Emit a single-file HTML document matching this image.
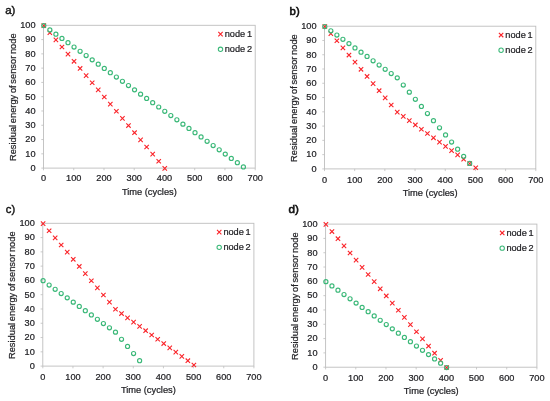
<!DOCTYPE html>
<html><head><meta charset="utf-8"><title>Residual energy of sensor node</title>
<style>
html,body{margin:0;padding:0;background:#fff;}
body{width:550px;height:401px;overflow:hidden;}
svg{display:block;font-family:"Liberation Sans",Arial,sans-serif;}
svg text{stroke:#222226;stroke-width:0.22px;}
</style></head><body>
<svg width="550" height="401" viewBox="0 0 550 401">
<rect width="550" height="401" fill="#fff"/>
<g id="chart-a"><rect x="43.50" y="25.30" width="211.70" height="142.80" fill="none" stroke="#bebebe" stroke-width="0.9"/>
<line x1="41.30" y1="168.10" x2="43.50" y2="168.10" stroke="#bebebe" stroke-width="0.8"/>
<text x="35.50" y="170.90" text-anchor="end" font-size="9.2" fill="#222226">0</text>
<line x1="41.30" y1="153.82" x2="43.50" y2="153.82" stroke="#bebebe" stroke-width="0.8"/>
<text x="35.50" y="156.62" text-anchor="end" font-size="9.2" fill="#222226">10</text>
<line x1="41.30" y1="139.54" x2="43.50" y2="139.54" stroke="#bebebe" stroke-width="0.8"/>
<text x="35.50" y="142.34" text-anchor="end" font-size="9.2" fill="#222226">20</text>
<line x1="41.30" y1="125.26" x2="43.50" y2="125.26" stroke="#bebebe" stroke-width="0.8"/>
<text x="35.50" y="128.06" text-anchor="end" font-size="9.2" fill="#222226">30</text>
<line x1="41.30" y1="110.98" x2="43.50" y2="110.98" stroke="#bebebe" stroke-width="0.8"/>
<text x="35.50" y="113.78" text-anchor="end" font-size="9.2" fill="#222226">40</text>
<line x1="41.30" y1="96.70" x2="43.50" y2="96.70" stroke="#bebebe" stroke-width="0.8"/>
<text x="35.50" y="99.50" text-anchor="end" font-size="9.2" fill="#222226">50</text>
<line x1="41.30" y1="82.42" x2="43.50" y2="82.42" stroke="#bebebe" stroke-width="0.8"/>
<text x="35.50" y="85.22" text-anchor="end" font-size="9.2" fill="#222226">60</text>
<line x1="41.30" y1="68.14" x2="43.50" y2="68.14" stroke="#bebebe" stroke-width="0.8"/>
<text x="35.50" y="70.94" text-anchor="end" font-size="9.2" fill="#222226">70</text>
<line x1="41.30" y1="53.86" x2="43.50" y2="53.86" stroke="#bebebe" stroke-width="0.8"/>
<text x="35.50" y="56.66" text-anchor="end" font-size="9.2" fill="#222226">80</text>
<line x1="41.30" y1="39.58" x2="43.50" y2="39.58" stroke="#bebebe" stroke-width="0.8"/>
<text x="35.50" y="42.38" text-anchor="end" font-size="9.2" fill="#222226">90</text>
<line x1="41.30" y1="25.30" x2="43.50" y2="25.30" stroke="#bebebe" stroke-width="0.8"/>
<text x="35.50" y="28.10" text-anchor="end" font-size="9.2" fill="#222226">100</text>
<line x1="43.50" y1="168.10" x2="43.50" y2="170.30" stroke="#bebebe" stroke-width="0.8"/>
<text x="43.50" y="181.40" text-anchor="middle" font-size="9.2" fill="#222226">0</text>
<line x1="73.74" y1="168.10" x2="73.74" y2="170.30" stroke="#bebebe" stroke-width="0.8"/>
<text x="73.74" y="181.40" text-anchor="middle" font-size="9.2" fill="#222226">100</text>
<line x1="103.99" y1="168.10" x2="103.99" y2="170.30" stroke="#bebebe" stroke-width="0.8"/>
<text x="103.99" y="181.40" text-anchor="middle" font-size="9.2" fill="#222226">200</text>
<line x1="134.23" y1="168.10" x2="134.23" y2="170.30" stroke="#bebebe" stroke-width="0.8"/>
<text x="134.23" y="181.40" text-anchor="middle" font-size="9.2" fill="#222226">300</text>
<line x1="164.47" y1="168.10" x2="164.47" y2="170.30" stroke="#bebebe" stroke-width="0.8"/>
<text x="164.47" y="181.40" text-anchor="middle" font-size="9.2" fill="#222226">400</text>
<line x1="194.71" y1="168.10" x2="194.71" y2="170.30" stroke="#bebebe" stroke-width="0.8"/>
<text x="194.71" y="181.40" text-anchor="middle" font-size="9.2" fill="#222226">500</text>
<line x1="224.96" y1="168.10" x2="224.96" y2="170.30" stroke="#bebebe" stroke-width="0.8"/>
<text x="224.96" y="181.40" text-anchor="middle" font-size="9.2" fill="#222226">600</text>
<line x1="255.20" y1="168.10" x2="255.20" y2="170.30" stroke="#bebebe" stroke-width="0.8"/>
<text x="255.20" y="181.40" text-anchor="middle" font-size="9.2" fill="#222226">700</text>
<text x="149.35" y="194.80" text-anchor="middle" font-size="9.3" fill="#222226">Time (cycles)</text>
<text transform="translate(15.70,97.20) rotate(-90)" text-anchor="middle" font-size="9.3" fill="#222226" word-spacing="-0.9" class="yl">Residual energy of sensor node</text>
<text x="5.2" y="14.2" font-size="11.5" fill="#111" style="stroke:#111;stroke-width:0.4px">a)</text>
<path d="M41.60 23.40L46.00 27.80M41.60 27.80L46.00 23.40" stroke="#fa2329" stroke-width="1.1" fill="none"/>
<path d="M47.65 30.54L52.05 34.94M47.65 34.94L52.05 30.54" stroke="#fa2329" stroke-width="1.1" fill="none"/>
<path d="M53.70 37.68L58.10 42.08M53.70 42.08L58.10 37.68" stroke="#fa2329" stroke-width="1.1" fill="none"/>
<path d="M59.75 44.82L64.15 49.22M59.75 49.22L64.15 44.82" stroke="#fa2329" stroke-width="1.1" fill="none"/>
<path d="M65.79 51.96L70.19 56.36M65.79 56.36L70.19 51.96" stroke="#fa2329" stroke-width="1.1" fill="none"/>
<path d="M71.84 59.10L76.24 63.50M71.84 63.50L76.24 59.10" stroke="#fa2329" stroke-width="1.1" fill="none"/>
<path d="M77.89 66.24L82.29 70.64M77.89 70.64L82.29 66.24" stroke="#fa2329" stroke-width="1.1" fill="none"/>
<path d="M83.94 73.38L88.34 77.78M83.94 77.78L88.34 73.38" stroke="#fa2329" stroke-width="1.1" fill="none"/>
<path d="M89.99 80.52L94.39 84.92M89.99 84.92L94.39 80.52" stroke="#fa2329" stroke-width="1.1" fill="none"/>
<path d="M96.04 87.66L100.44 92.06M96.04 92.06L100.44 87.66" stroke="#fa2329" stroke-width="1.1" fill="none"/>
<path d="M102.09 94.80L106.49 99.20M102.09 99.20L106.49 94.80" stroke="#fa2329" stroke-width="1.1" fill="none"/>
<path d="M108.13 101.94L112.53 106.34M108.13 106.34L112.53 101.94" stroke="#fa2329" stroke-width="1.1" fill="none"/>
<path d="M114.18 109.08L118.58 113.48M114.18 113.48L118.58 109.08" stroke="#fa2329" stroke-width="1.1" fill="none"/>
<path d="M120.23 116.22L124.63 120.62M120.23 120.62L124.63 116.22" stroke="#fa2329" stroke-width="1.1" fill="none"/>
<path d="M126.28 123.36L130.68 127.76M126.28 127.76L130.68 123.36" stroke="#fa2329" stroke-width="1.1" fill="none"/>
<path d="M132.33 130.50L136.73 134.90M132.33 134.90L136.73 130.50" stroke="#fa2329" stroke-width="1.1" fill="none"/>
<path d="M138.38 137.64L142.78 142.04M138.38 142.04L142.78 137.64" stroke="#fa2329" stroke-width="1.1" fill="none"/>
<path d="M144.43 144.78L148.83 149.18M144.43 149.18L148.83 144.78" stroke="#fa2329" stroke-width="1.1" fill="none"/>
<path d="M150.47 151.92L154.87 156.32M150.47 156.32L154.87 151.92" stroke="#fa2329" stroke-width="1.1" fill="none"/>
<path d="M156.52 159.06L160.92 163.46M156.52 163.46L160.92 159.06" stroke="#fa2329" stroke-width="1.1" fill="none"/>
<path d="M162.57 166.20L166.97 170.60M162.57 170.60L166.97 166.20" stroke="#fa2329" stroke-width="1.1" fill="none"/>
<circle cx="43.80" cy="25.60" r="2.05" fill="none" stroke="#3ab878" stroke-width="1.15"/>
<circle cx="49.85" cy="29.88" r="2.05" fill="none" stroke="#3ab878" stroke-width="1.15"/>
<circle cx="55.90" cy="34.17" r="2.05" fill="none" stroke="#3ab878" stroke-width="1.15"/>
<circle cx="61.95" cy="38.45" r="2.05" fill="none" stroke="#3ab878" stroke-width="1.15"/>
<circle cx="67.99" cy="42.74" r="2.05" fill="none" stroke="#3ab878" stroke-width="1.15"/>
<circle cx="74.04" cy="47.02" r="2.05" fill="none" stroke="#3ab878" stroke-width="1.15"/>
<circle cx="80.09" cy="51.30" r="2.05" fill="none" stroke="#3ab878" stroke-width="1.15"/>
<circle cx="86.14" cy="55.59" r="2.05" fill="none" stroke="#3ab878" stroke-width="1.15"/>
<circle cx="92.19" cy="59.87" r="2.05" fill="none" stroke="#3ab878" stroke-width="1.15"/>
<circle cx="98.24" cy="64.16" r="2.05" fill="none" stroke="#3ab878" stroke-width="1.15"/>
<circle cx="104.29" cy="68.44" r="2.05" fill="none" stroke="#3ab878" stroke-width="1.15"/>
<circle cx="110.33" cy="72.72" r="2.05" fill="none" stroke="#3ab878" stroke-width="1.15"/>
<circle cx="116.38" cy="77.01" r="2.05" fill="none" stroke="#3ab878" stroke-width="1.15"/>
<circle cx="122.43" cy="81.29" r="2.05" fill="none" stroke="#3ab878" stroke-width="1.15"/>
<circle cx="128.48" cy="85.58" r="2.05" fill="none" stroke="#3ab878" stroke-width="1.15"/>
<circle cx="134.53" cy="89.86" r="2.05" fill="none" stroke="#3ab878" stroke-width="1.15"/>
<circle cx="140.58" cy="94.14" r="2.05" fill="none" stroke="#3ab878" stroke-width="1.15"/>
<circle cx="146.63" cy="98.43" r="2.05" fill="none" stroke="#3ab878" stroke-width="1.15"/>
<circle cx="152.67" cy="102.71" r="2.05" fill="none" stroke="#3ab878" stroke-width="1.15"/>
<circle cx="158.72" cy="107.00" r="2.05" fill="none" stroke="#3ab878" stroke-width="1.15"/>
<circle cx="164.77" cy="111.28" r="2.05" fill="none" stroke="#3ab878" stroke-width="1.15"/>
<circle cx="170.82" cy="115.56" r="2.05" fill="none" stroke="#3ab878" stroke-width="1.15"/>
<circle cx="176.87" cy="119.85" r="2.05" fill="none" stroke="#3ab878" stroke-width="1.15"/>
<circle cx="182.92" cy="124.13" r="2.05" fill="none" stroke="#3ab878" stroke-width="1.15"/>
<circle cx="188.97" cy="128.42" r="2.05" fill="none" stroke="#3ab878" stroke-width="1.15"/>
<circle cx="195.01" cy="132.70" r="2.05" fill="none" stroke="#3ab878" stroke-width="1.15"/>
<circle cx="201.06" cy="136.98" r="2.05" fill="none" stroke="#3ab878" stroke-width="1.15"/>
<circle cx="207.11" cy="141.27" r="2.05" fill="none" stroke="#3ab878" stroke-width="1.15"/>
<circle cx="213.16" cy="145.55" r="2.05" fill="none" stroke="#3ab878" stroke-width="1.15"/>
<circle cx="219.21" cy="149.84" r="2.05" fill="none" stroke="#3ab878" stroke-width="1.15"/>
<circle cx="225.26" cy="154.12" r="2.05" fill="none" stroke="#3ab878" stroke-width="1.15"/>
<circle cx="231.31" cy="158.40" r="2.05" fill="none" stroke="#3ab878" stroke-width="1.15"/>
<circle cx="237.35" cy="162.69" r="2.05" fill="none" stroke="#3ab878" stroke-width="1.15"/>
<circle cx="243.40" cy="166.97" r="2.05" fill="none" stroke="#3ab878" stroke-width="1.15"/>
<path d="M218.30 31.95L222.70 36.35M218.30 36.35L222.70 31.95" stroke="#fa2329" stroke-width="1.1" fill="none"/>
<text x="224.70" y="36.85" font-size="9.2" fill="#222226" word-spacing="-0.8">node 1</text>
<circle cx="220.50" cy="49.35" r="2.2" fill="none" stroke="#3ab878" stroke-width="1.05"/>
<text x="224.70" y="52.05" font-size="9.2" fill="#222226" word-spacing="-0.8">node 2</text></g>
<g id="chart-b"><rect x="324.50" y="26.20" width="211.30" height="142.70" fill="none" stroke="#bebebe" stroke-width="0.9"/>
<line x1="322.30" y1="168.90" x2="324.50" y2="168.90" stroke="#bebebe" stroke-width="0.8"/>
<text x="316.50" y="171.70" text-anchor="end" font-size="9.2" fill="#222226">0</text>
<line x1="322.30" y1="154.63" x2="324.50" y2="154.63" stroke="#bebebe" stroke-width="0.8"/>
<text x="316.50" y="157.43" text-anchor="end" font-size="9.2" fill="#222226">10</text>
<line x1="322.30" y1="140.36" x2="324.50" y2="140.36" stroke="#bebebe" stroke-width="0.8"/>
<text x="316.50" y="143.16" text-anchor="end" font-size="9.2" fill="#222226">20</text>
<line x1="322.30" y1="126.09" x2="324.50" y2="126.09" stroke="#bebebe" stroke-width="0.8"/>
<text x="316.50" y="128.89" text-anchor="end" font-size="9.2" fill="#222226">30</text>
<line x1="322.30" y1="111.82" x2="324.50" y2="111.82" stroke="#bebebe" stroke-width="0.8"/>
<text x="316.50" y="114.62" text-anchor="end" font-size="9.2" fill="#222226">40</text>
<line x1="322.30" y1="97.55" x2="324.50" y2="97.55" stroke="#bebebe" stroke-width="0.8"/>
<text x="316.50" y="100.35" text-anchor="end" font-size="9.2" fill="#222226">50</text>
<line x1="322.30" y1="83.28" x2="324.50" y2="83.28" stroke="#bebebe" stroke-width="0.8"/>
<text x="316.50" y="86.08" text-anchor="end" font-size="9.2" fill="#222226">60</text>
<line x1="322.30" y1="69.01" x2="324.50" y2="69.01" stroke="#bebebe" stroke-width="0.8"/>
<text x="316.50" y="71.81" text-anchor="end" font-size="9.2" fill="#222226">70</text>
<line x1="322.30" y1="54.74" x2="324.50" y2="54.74" stroke="#bebebe" stroke-width="0.8"/>
<text x="316.50" y="57.54" text-anchor="end" font-size="9.2" fill="#222226">80</text>
<line x1="322.30" y1="40.47" x2="324.50" y2="40.47" stroke="#bebebe" stroke-width="0.8"/>
<text x="316.50" y="43.27" text-anchor="end" font-size="9.2" fill="#222226">90</text>
<line x1="322.30" y1="26.20" x2="324.50" y2="26.20" stroke="#bebebe" stroke-width="0.8"/>
<text x="316.50" y="29.00" text-anchor="end" font-size="9.2" fill="#222226">100</text>
<line x1="324.50" y1="168.90" x2="324.50" y2="171.10" stroke="#bebebe" stroke-width="0.8"/>
<text x="324.50" y="182.70" text-anchor="middle" font-size="9.2" fill="#222226">0</text>
<line x1="354.69" y1="168.90" x2="354.69" y2="171.10" stroke="#bebebe" stroke-width="0.8"/>
<text x="354.69" y="182.70" text-anchor="middle" font-size="9.2" fill="#222226">100</text>
<line x1="384.87" y1="168.90" x2="384.87" y2="171.10" stroke="#bebebe" stroke-width="0.8"/>
<text x="384.87" y="182.70" text-anchor="middle" font-size="9.2" fill="#222226">200</text>
<line x1="415.06" y1="168.90" x2="415.06" y2="171.10" stroke="#bebebe" stroke-width="0.8"/>
<text x="415.06" y="182.70" text-anchor="middle" font-size="9.2" fill="#222226">300</text>
<line x1="445.24" y1="168.90" x2="445.24" y2="171.10" stroke="#bebebe" stroke-width="0.8"/>
<text x="445.24" y="182.70" text-anchor="middle" font-size="9.2" fill="#222226">400</text>
<line x1="475.43" y1="168.90" x2="475.43" y2="171.10" stroke="#bebebe" stroke-width="0.8"/>
<text x="475.43" y="182.70" text-anchor="middle" font-size="9.2" fill="#222226">500</text>
<line x1="505.61" y1="168.90" x2="505.61" y2="171.10" stroke="#bebebe" stroke-width="0.8"/>
<text x="505.61" y="182.70" text-anchor="middle" font-size="9.2" fill="#222226">600</text>
<line x1="535.80" y1="168.90" x2="535.80" y2="171.10" stroke="#bebebe" stroke-width="0.8"/>
<text x="535.80" y="182.70" text-anchor="middle" font-size="9.2" fill="#222226">700</text>
<text x="430.15" y="195.90" text-anchor="middle" font-size="9.3" fill="#222226">Time (cycles)</text>
<text transform="translate(296.70,98.05) rotate(-90)" text-anchor="middle" font-size="9.3" fill="#222226" word-spacing="-0.9" class="yl">Residual energy of sensor node</text>
<text x="289.6" y="14.5" font-size="11.3" fill="#111" style="stroke:#111;stroke-width:0.6px">b)</text>
<path d="M322.60 24.30L327.00 28.70M322.60 28.70L327.00 24.30" stroke="#fa2329" stroke-width="1.1" fill="none"/>
<path d="M328.64 31.43L333.04 35.83M328.64 35.83L333.04 31.43" stroke="#fa2329" stroke-width="1.1" fill="none"/>
<path d="M334.67 38.57L339.07 42.97M334.67 42.97L339.07 38.57" stroke="#fa2329" stroke-width="1.1" fill="none"/>
<path d="M340.71 45.70L345.11 50.10M340.71 50.10L345.11 45.70" stroke="#fa2329" stroke-width="1.1" fill="none"/>
<path d="M346.75 52.84L351.15 57.24M346.75 57.24L351.15 52.84" stroke="#fa2329" stroke-width="1.1" fill="none"/>
<path d="M352.79 59.97L357.19 64.37M352.79 64.37L357.19 59.97" stroke="#fa2329" stroke-width="1.1" fill="none"/>
<path d="M358.82 67.11L363.22 71.51M358.82 71.51L363.22 67.11" stroke="#fa2329" stroke-width="1.1" fill="none"/>
<path d="M364.86 74.24L369.26 78.64M364.86 78.64L369.26 74.24" stroke="#fa2329" stroke-width="1.1" fill="none"/>
<path d="M370.90 81.38L375.30 85.78M370.90 85.78L375.30 81.38" stroke="#fa2329" stroke-width="1.1" fill="none"/>
<path d="M376.93 88.51L381.33 92.91M376.93 92.91L381.33 88.51" stroke="#fa2329" stroke-width="1.1" fill="none"/>
<path d="M382.97 95.65L387.37 100.05M382.97 100.05L387.37 95.65" stroke="#fa2329" stroke-width="1.1" fill="none"/>
<path d="M389.01 102.78L393.41 107.18M389.01 107.18L393.41 102.78" stroke="#fa2329" stroke-width="1.1" fill="none"/>
<path d="M395.05 109.92L399.45 114.32M395.05 114.32L399.45 109.92" stroke="#fa2329" stroke-width="1.1" fill="none"/>
<path d="M401.08 114.20L405.48 118.60M401.08 118.60L405.48 114.20" stroke="#fa2329" stroke-width="1.1" fill="none"/>
<path d="M407.12 118.48L411.52 122.88M407.12 122.88L411.52 118.48" stroke="#fa2329" stroke-width="1.1" fill="none"/>
<path d="M413.16 122.76L417.56 127.16M413.16 127.16L417.56 122.76" stroke="#fa2329" stroke-width="1.1" fill="none"/>
<path d="M419.19 127.04L423.59 131.44M419.19 131.44L423.59 127.04" stroke="#fa2329" stroke-width="1.1" fill="none"/>
<path d="M425.23 131.33L429.63 135.72M425.23 135.72L429.63 131.33" stroke="#fa2329" stroke-width="1.1" fill="none"/>
<path d="M431.27 135.61L435.67 140.01M431.27 140.01L435.67 135.61" stroke="#fa2329" stroke-width="1.1" fill="none"/>
<path d="M437.31 139.89L441.71 144.29M437.31 144.29L441.71 139.89" stroke="#fa2329" stroke-width="1.1" fill="none"/>
<path d="M443.34 144.17L447.74 148.57M443.34 148.57L447.74 144.17" stroke="#fa2329" stroke-width="1.1" fill="none"/>
<path d="M449.38 148.45L453.78 152.85M449.38 152.85L453.78 148.45" stroke="#fa2329" stroke-width="1.1" fill="none"/>
<path d="M455.42 152.73L459.82 157.13M455.42 157.13L459.82 152.73" stroke="#fa2329" stroke-width="1.1" fill="none"/>
<path d="M461.45 157.01L465.85 161.41M461.45 161.41L465.85 157.01" stroke="#fa2329" stroke-width="1.1" fill="none"/>
<path d="M467.49 161.29L471.89 165.69M467.49 165.69L471.89 161.29" stroke="#fa2329" stroke-width="1.1" fill="none"/>
<path d="M473.53 165.57L477.93 169.97M473.53 169.97L477.93 165.57" stroke="#fa2329" stroke-width="1.1" fill="none"/>
<circle cx="324.80" cy="26.50" r="2.05" fill="none" stroke="#3ab878" stroke-width="1.15"/>
<circle cx="330.84" cy="30.78" r="2.05" fill="none" stroke="#3ab878" stroke-width="1.15"/>
<circle cx="336.87" cy="35.06" r="2.05" fill="none" stroke="#3ab878" stroke-width="1.15"/>
<circle cx="342.91" cy="39.34" r="2.05" fill="none" stroke="#3ab878" stroke-width="1.15"/>
<circle cx="348.95" cy="43.62" r="2.05" fill="none" stroke="#3ab878" stroke-width="1.15"/>
<circle cx="354.99" cy="47.90" r="2.05" fill="none" stroke="#3ab878" stroke-width="1.15"/>
<circle cx="361.02" cy="52.19" r="2.05" fill="none" stroke="#3ab878" stroke-width="1.15"/>
<circle cx="367.06" cy="56.47" r="2.05" fill="none" stroke="#3ab878" stroke-width="1.15"/>
<circle cx="373.10" cy="60.75" r="2.05" fill="none" stroke="#3ab878" stroke-width="1.15"/>
<circle cx="379.13" cy="65.03" r="2.05" fill="none" stroke="#3ab878" stroke-width="1.15"/>
<circle cx="385.17" cy="69.31" r="2.05" fill="none" stroke="#3ab878" stroke-width="1.15"/>
<circle cx="391.21" cy="73.59" r="2.05" fill="none" stroke="#3ab878" stroke-width="1.15"/>
<circle cx="397.25" cy="77.87" r="2.05" fill="none" stroke="#3ab878" stroke-width="1.15"/>
<circle cx="403.28" cy="85.01" r="2.05" fill="none" stroke="#3ab878" stroke-width="1.15"/>
<circle cx="409.32" cy="92.14" r="2.05" fill="none" stroke="#3ab878" stroke-width="1.15"/>
<circle cx="415.36" cy="99.28" r="2.05" fill="none" stroke="#3ab878" stroke-width="1.15"/>
<circle cx="421.39" cy="106.41" r="2.05" fill="none" stroke="#3ab878" stroke-width="1.15"/>
<circle cx="427.43" cy="113.55" r="2.05" fill="none" stroke="#3ab878" stroke-width="1.15"/>
<circle cx="433.47" cy="120.68" r="2.05" fill="none" stroke="#3ab878" stroke-width="1.15"/>
<circle cx="439.51" cy="127.82" r="2.05" fill="none" stroke="#3ab878" stroke-width="1.15"/>
<circle cx="445.54" cy="134.95" r="2.05" fill="none" stroke="#3ab878" stroke-width="1.15"/>
<circle cx="451.58" cy="142.09" r="2.05" fill="none" stroke="#3ab878" stroke-width="1.15"/>
<circle cx="457.62" cy="149.22" r="2.05" fill="none" stroke="#3ab878" stroke-width="1.15"/>
<circle cx="463.65" cy="156.36" r="2.05" fill="none" stroke="#3ab878" stroke-width="1.15"/>
<circle cx="469.69" cy="163.49" r="2.05" fill="none" stroke="#3ab878" stroke-width="1.15"/>
<path d="M498.90 32.85L503.30 37.25M498.90 37.25L503.30 32.85" stroke="#fa2329" stroke-width="1.1" fill="none"/>
<text x="505.30" y="37.75" font-size="9.2" fill="#222226" word-spacing="-0.8">node 1</text>
<circle cx="501.10" cy="50.25" r="2.2" fill="none" stroke="#3ab878" stroke-width="1.05"/>
<text x="505.30" y="52.95" font-size="9.2" fill="#222226" word-spacing="-0.8">node 2</text></g>
<g id="chart-c"><rect x="42.80" y="223.30" width="211.10" height="142.80" fill="none" stroke="#bebebe" stroke-width="0.9"/>
<line x1="40.60" y1="366.10" x2="42.80" y2="366.10" stroke="#bebebe" stroke-width="0.8"/>
<text x="34.80" y="368.90" text-anchor="end" font-size="9.2" fill="#222226">0</text>
<line x1="40.60" y1="351.82" x2="42.80" y2="351.82" stroke="#bebebe" stroke-width="0.8"/>
<text x="34.80" y="354.62" text-anchor="end" font-size="9.2" fill="#222226">10</text>
<line x1="40.60" y1="337.54" x2="42.80" y2="337.54" stroke="#bebebe" stroke-width="0.8"/>
<text x="34.80" y="340.34" text-anchor="end" font-size="9.2" fill="#222226">20</text>
<line x1="40.60" y1="323.26" x2="42.80" y2="323.26" stroke="#bebebe" stroke-width="0.8"/>
<text x="34.80" y="326.06" text-anchor="end" font-size="9.2" fill="#222226">30</text>
<line x1="40.60" y1="308.98" x2="42.80" y2="308.98" stroke="#bebebe" stroke-width="0.8"/>
<text x="34.80" y="311.78" text-anchor="end" font-size="9.2" fill="#222226">40</text>
<line x1="40.60" y1="294.70" x2="42.80" y2="294.70" stroke="#bebebe" stroke-width="0.8"/>
<text x="34.80" y="297.50" text-anchor="end" font-size="9.2" fill="#222226">50</text>
<line x1="40.60" y1="280.42" x2="42.80" y2="280.42" stroke="#bebebe" stroke-width="0.8"/>
<text x="34.80" y="283.22" text-anchor="end" font-size="9.2" fill="#222226">60</text>
<line x1="40.60" y1="266.14" x2="42.80" y2="266.14" stroke="#bebebe" stroke-width="0.8"/>
<text x="34.80" y="268.94" text-anchor="end" font-size="9.2" fill="#222226">70</text>
<line x1="40.60" y1="251.86" x2="42.80" y2="251.86" stroke="#bebebe" stroke-width="0.8"/>
<text x="34.80" y="254.66" text-anchor="end" font-size="9.2" fill="#222226">80</text>
<line x1="40.60" y1="237.58" x2="42.80" y2="237.58" stroke="#bebebe" stroke-width="0.8"/>
<text x="34.80" y="240.38" text-anchor="end" font-size="9.2" fill="#222226">90</text>
<line x1="40.60" y1="223.30" x2="42.80" y2="223.30" stroke="#bebebe" stroke-width="0.8"/>
<text x="34.80" y="226.10" text-anchor="end" font-size="9.2" fill="#222226">100</text>
<line x1="42.80" y1="366.10" x2="42.80" y2="368.30" stroke="#bebebe" stroke-width="0.8"/>
<text x="42.80" y="380.00" text-anchor="middle" font-size="9.2" fill="#222226">0</text>
<line x1="72.96" y1="366.10" x2="72.96" y2="368.30" stroke="#bebebe" stroke-width="0.8"/>
<text x="72.96" y="380.00" text-anchor="middle" font-size="9.2" fill="#222226">100</text>
<line x1="103.11" y1="366.10" x2="103.11" y2="368.30" stroke="#bebebe" stroke-width="0.8"/>
<text x="103.11" y="380.00" text-anchor="middle" font-size="9.2" fill="#222226">200</text>
<line x1="133.27" y1="366.10" x2="133.27" y2="368.30" stroke="#bebebe" stroke-width="0.8"/>
<text x="133.27" y="380.00" text-anchor="middle" font-size="9.2" fill="#222226">300</text>
<line x1="163.43" y1="366.10" x2="163.43" y2="368.30" stroke="#bebebe" stroke-width="0.8"/>
<text x="163.43" y="380.00" text-anchor="middle" font-size="9.2" fill="#222226">400</text>
<line x1="193.59" y1="366.10" x2="193.59" y2="368.30" stroke="#bebebe" stroke-width="0.8"/>
<text x="193.59" y="380.00" text-anchor="middle" font-size="9.2" fill="#222226">500</text>
<line x1="223.74" y1="366.10" x2="223.74" y2="368.30" stroke="#bebebe" stroke-width="0.8"/>
<text x="223.74" y="380.00" text-anchor="middle" font-size="9.2" fill="#222226">600</text>
<line x1="253.90" y1="366.10" x2="253.90" y2="368.30" stroke="#bebebe" stroke-width="0.8"/>
<text x="253.90" y="380.00" text-anchor="middle" font-size="9.2" fill="#222226">700</text>
<text x="148.35" y="393.20" text-anchor="middle" font-size="9.3" fill="#222226">Time (cycles)</text>
<text transform="translate(15.00,295.20) rotate(-90)" text-anchor="middle" font-size="9.3" fill="#222226" word-spacing="-0.9" class="yl">Residual energy of sensor node</text>
<text x="5.8" y="212.7" font-size="11.2" fill="#111" style="stroke:#111;stroke-width:0.4px">c)</text>
<path d="M40.90 221.40L45.30 225.80M40.90 225.80L45.30 221.40" stroke="#fa2329" stroke-width="1.1" fill="none"/>
<path d="M46.93 228.54L51.33 232.94M46.93 232.94L51.33 228.54" stroke="#fa2329" stroke-width="1.1" fill="none"/>
<path d="M52.96 235.68L57.36 240.08M52.96 240.08L57.36 235.68" stroke="#fa2329" stroke-width="1.1" fill="none"/>
<path d="M58.99 242.82L63.39 247.22M58.99 247.22L63.39 242.82" stroke="#fa2329" stroke-width="1.1" fill="none"/>
<path d="M65.03 249.96L69.43 254.36M65.03 254.36L69.43 249.96" stroke="#fa2329" stroke-width="1.1" fill="none"/>
<path d="M71.06 257.10L75.46 261.50M71.06 261.50L75.46 257.10" stroke="#fa2329" stroke-width="1.1" fill="none"/>
<path d="M77.09 264.24L81.49 268.64M77.09 268.64L81.49 264.24" stroke="#fa2329" stroke-width="1.1" fill="none"/>
<path d="M83.12 271.38L87.52 275.78M83.12 275.78L87.52 271.38" stroke="#fa2329" stroke-width="1.1" fill="none"/>
<path d="M89.15 278.52L93.55 282.92M89.15 282.92L93.55 278.52" stroke="#fa2329" stroke-width="1.1" fill="none"/>
<path d="M95.18 285.66L99.58 290.06M95.18 290.06L99.58 285.66" stroke="#fa2329" stroke-width="1.1" fill="none"/>
<path d="M101.21 292.80L105.61 297.20M101.21 297.20L105.61 292.80" stroke="#fa2329" stroke-width="1.1" fill="none"/>
<path d="M107.25 299.94L111.65 304.34M107.25 304.34L111.65 299.94" stroke="#fa2329" stroke-width="1.1" fill="none"/>
<path d="M113.28 307.08L117.68 311.48M113.28 311.48L117.68 307.08" stroke="#fa2329" stroke-width="1.1" fill="none"/>
<path d="M119.31 311.36L123.71 315.76M119.31 315.76L123.71 311.36" stroke="#fa2329" stroke-width="1.1" fill="none"/>
<path d="M125.34 315.65L129.74 320.05M125.34 320.05L129.74 315.65" stroke="#fa2329" stroke-width="1.1" fill="none"/>
<path d="M131.37 319.93L135.77 324.33M131.37 324.33L135.77 319.93" stroke="#fa2329" stroke-width="1.1" fill="none"/>
<path d="M137.40 324.22L141.80 328.62M137.40 328.62L141.80 324.22" stroke="#fa2329" stroke-width="1.1" fill="none"/>
<path d="M143.43 328.50L147.83 332.90M143.43 332.90L147.83 328.50" stroke="#fa2329" stroke-width="1.1" fill="none"/>
<path d="M149.47 332.78L153.87 337.18M149.47 337.18L153.87 332.78" stroke="#fa2329" stroke-width="1.1" fill="none"/>
<path d="M155.50 337.07L159.90 341.47M155.50 341.47L159.90 337.07" stroke="#fa2329" stroke-width="1.1" fill="none"/>
<path d="M161.53 341.35L165.93 345.75M161.53 345.75L165.93 341.35" stroke="#fa2329" stroke-width="1.1" fill="none"/>
<path d="M167.56 345.64L171.96 350.04M167.56 350.04L171.96 345.64" stroke="#fa2329" stroke-width="1.1" fill="none"/>
<path d="M173.59 349.92L177.99 354.32M173.59 354.32L177.99 349.92" stroke="#fa2329" stroke-width="1.1" fill="none"/>
<path d="M179.62 354.20L184.02 358.60M179.62 358.60L184.02 354.20" stroke="#fa2329" stroke-width="1.1" fill="none"/>
<path d="M185.65 358.49L190.05 362.89M185.65 362.89L190.05 358.49" stroke="#fa2329" stroke-width="1.1" fill="none"/>
<path d="M191.69 362.77L196.09 367.17M191.69 367.17L196.09 362.77" stroke="#fa2329" stroke-width="1.1" fill="none"/>
<circle cx="43.10" cy="280.72" r="2.05" fill="none" stroke="#3ab878" stroke-width="1.15"/>
<circle cx="49.13" cy="285.00" r="2.05" fill="none" stroke="#3ab878" stroke-width="1.15"/>
<circle cx="55.16" cy="289.29" r="2.05" fill="none" stroke="#3ab878" stroke-width="1.15"/>
<circle cx="61.19" cy="293.57" r="2.05" fill="none" stroke="#3ab878" stroke-width="1.15"/>
<circle cx="67.23" cy="297.86" r="2.05" fill="none" stroke="#3ab878" stroke-width="1.15"/>
<circle cx="73.26" cy="302.14" r="2.05" fill="none" stroke="#3ab878" stroke-width="1.15"/>
<circle cx="79.29" cy="306.42" r="2.05" fill="none" stroke="#3ab878" stroke-width="1.15"/>
<circle cx="85.32" cy="310.71" r="2.05" fill="none" stroke="#3ab878" stroke-width="1.15"/>
<circle cx="91.35" cy="314.99" r="2.05" fill="none" stroke="#3ab878" stroke-width="1.15"/>
<circle cx="97.38" cy="319.28" r="2.05" fill="none" stroke="#3ab878" stroke-width="1.15"/>
<circle cx="103.41" cy="323.56" r="2.05" fill="none" stroke="#3ab878" stroke-width="1.15"/>
<circle cx="109.45" cy="327.84" r="2.05" fill="none" stroke="#3ab878" stroke-width="1.15"/>
<circle cx="115.48" cy="332.13" r="2.05" fill="none" stroke="#3ab878" stroke-width="1.15"/>
<circle cx="121.51" cy="339.27" r="2.05" fill="none" stroke="#3ab878" stroke-width="1.15"/>
<circle cx="127.54" cy="346.41" r="2.05" fill="none" stroke="#3ab878" stroke-width="1.15"/>
<circle cx="133.57" cy="353.55" r="2.05" fill="none" stroke="#3ab878" stroke-width="1.15"/>
<circle cx="139.60" cy="360.69" r="2.05" fill="none" stroke="#3ab878" stroke-width="1.15"/>
<path d="M217.00 229.95L221.40 234.35M217.00 234.35L221.40 229.95" stroke="#fa2329" stroke-width="1.1" fill="none"/>
<text x="223.40" y="234.85" font-size="9.2" fill="#222226" word-spacing="-0.8">node 1</text>
<circle cx="219.20" cy="247.35" r="2.2" fill="none" stroke="#3ab878" stroke-width="1.05"/>
<text x="223.40" y="250.05" font-size="9.2" fill="#222226" word-spacing="-0.8">node 2</text></g>
<g id="chart-d"><rect x="325.60" y="224.10" width="211.30" height="143.10" fill="none" stroke="#bebebe" stroke-width="0.9"/>
<line x1="323.40" y1="367.20" x2="325.60" y2="367.20" stroke="#bebebe" stroke-width="0.8"/>
<text x="317.60" y="370.00" text-anchor="end" font-size="9.2" fill="#222226">0</text>
<line x1="323.40" y1="352.89" x2="325.60" y2="352.89" stroke="#bebebe" stroke-width="0.8"/>
<text x="317.60" y="355.69" text-anchor="end" font-size="9.2" fill="#222226">10</text>
<line x1="323.40" y1="338.58" x2="325.60" y2="338.58" stroke="#bebebe" stroke-width="0.8"/>
<text x="317.60" y="341.38" text-anchor="end" font-size="9.2" fill="#222226">20</text>
<line x1="323.40" y1="324.27" x2="325.60" y2="324.27" stroke="#bebebe" stroke-width="0.8"/>
<text x="317.60" y="327.07" text-anchor="end" font-size="9.2" fill="#222226">30</text>
<line x1="323.40" y1="309.96" x2="325.60" y2="309.96" stroke="#bebebe" stroke-width="0.8"/>
<text x="317.60" y="312.76" text-anchor="end" font-size="9.2" fill="#222226">40</text>
<line x1="323.40" y1="295.65" x2="325.60" y2="295.65" stroke="#bebebe" stroke-width="0.8"/>
<text x="317.60" y="298.45" text-anchor="end" font-size="9.2" fill="#222226">50</text>
<line x1="323.40" y1="281.34" x2="325.60" y2="281.34" stroke="#bebebe" stroke-width="0.8"/>
<text x="317.60" y="284.14" text-anchor="end" font-size="9.2" fill="#222226">60</text>
<line x1="323.40" y1="267.03" x2="325.60" y2="267.03" stroke="#bebebe" stroke-width="0.8"/>
<text x="317.60" y="269.83" text-anchor="end" font-size="9.2" fill="#222226">70</text>
<line x1="323.40" y1="252.72" x2="325.60" y2="252.72" stroke="#bebebe" stroke-width="0.8"/>
<text x="317.60" y="255.52" text-anchor="end" font-size="9.2" fill="#222226">80</text>
<line x1="323.40" y1="238.41" x2="325.60" y2="238.41" stroke="#bebebe" stroke-width="0.8"/>
<text x="317.60" y="241.21" text-anchor="end" font-size="9.2" fill="#222226">90</text>
<line x1="323.40" y1="224.10" x2="325.60" y2="224.10" stroke="#bebebe" stroke-width="0.8"/>
<text x="317.60" y="226.90" text-anchor="end" font-size="9.2" fill="#222226">100</text>
<line x1="325.60" y1="367.20" x2="325.60" y2="369.40" stroke="#bebebe" stroke-width="0.8"/>
<text x="325.60" y="380.60" text-anchor="middle" font-size="9.2" fill="#222226">0</text>
<line x1="355.79" y1="367.20" x2="355.79" y2="369.40" stroke="#bebebe" stroke-width="0.8"/>
<text x="355.79" y="380.60" text-anchor="middle" font-size="9.2" fill="#222226">100</text>
<line x1="385.97" y1="367.20" x2="385.97" y2="369.40" stroke="#bebebe" stroke-width="0.8"/>
<text x="385.97" y="380.60" text-anchor="middle" font-size="9.2" fill="#222226">200</text>
<line x1="416.16" y1="367.20" x2="416.16" y2="369.40" stroke="#bebebe" stroke-width="0.8"/>
<text x="416.16" y="380.60" text-anchor="middle" font-size="9.2" fill="#222226">300</text>
<line x1="446.34" y1="367.20" x2="446.34" y2="369.40" stroke="#bebebe" stroke-width="0.8"/>
<text x="446.34" y="380.60" text-anchor="middle" font-size="9.2" fill="#222226">400</text>
<line x1="476.53" y1="367.20" x2="476.53" y2="369.40" stroke="#bebebe" stroke-width="0.8"/>
<text x="476.53" y="380.60" text-anchor="middle" font-size="9.2" fill="#222226">500</text>
<line x1="506.71" y1="367.20" x2="506.71" y2="369.40" stroke="#bebebe" stroke-width="0.8"/>
<text x="506.71" y="380.60" text-anchor="middle" font-size="9.2" fill="#222226">600</text>
<line x1="536.90" y1="367.20" x2="536.90" y2="369.40" stroke="#bebebe" stroke-width="0.8"/>
<text x="536.90" y="380.60" text-anchor="middle" font-size="9.2" fill="#222226">700</text>
<text x="431.25" y="394.30" text-anchor="middle" font-size="9.3" fill="#222226">Time (cycles)</text>
<text transform="translate(297.80,296.15) rotate(-90)" text-anchor="middle" font-size="9.3" fill="#222226" word-spacing="-0.9" class="yl">Residual energy of sensor node</text>
<text x="288.5" y="212.6" font-size="11.7" fill="#111" style="stroke:#111;stroke-width:0.6px">d)</text>
<path d="M323.70 222.20L328.10 226.60M323.70 226.60L328.10 222.20" stroke="#fa2329" stroke-width="1.1" fill="none"/>
<path d="M329.74 229.36L334.14 233.75M329.74 233.75L334.14 229.36" stroke="#fa2329" stroke-width="1.1" fill="none"/>
<path d="M335.77 236.51L340.17 240.91M335.77 240.91L340.17 236.51" stroke="#fa2329" stroke-width="1.1" fill="none"/>
<path d="M341.81 243.67L346.21 248.06M341.81 248.06L346.21 243.67" stroke="#fa2329" stroke-width="1.1" fill="none"/>
<path d="M347.85 250.82L352.25 255.22M347.85 255.22L352.25 250.82" stroke="#fa2329" stroke-width="1.1" fill="none"/>
<path d="M353.89 257.98L358.29 262.38M353.89 262.38L358.29 257.98" stroke="#fa2329" stroke-width="1.1" fill="none"/>
<path d="M359.92 265.13L364.32 269.53M359.92 269.53L364.32 265.13" stroke="#fa2329" stroke-width="1.1" fill="none"/>
<path d="M365.96 272.29L370.36 276.69M365.96 276.69L370.36 272.29" stroke="#fa2329" stroke-width="1.1" fill="none"/>
<path d="M372.00 279.44L376.40 283.84M372.00 283.84L376.40 279.44" stroke="#fa2329" stroke-width="1.1" fill="none"/>
<path d="M378.03 286.60L382.43 291.00M378.03 291.00L382.43 286.60" stroke="#fa2329" stroke-width="1.1" fill="none"/>
<path d="M384.07 293.75L388.47 298.15M384.07 298.15L388.47 293.75" stroke="#fa2329" stroke-width="1.1" fill="none"/>
<path d="M390.11 300.91L394.51 305.31M390.11 305.31L394.51 300.91" stroke="#fa2329" stroke-width="1.1" fill="none"/>
<path d="M396.15 308.06L400.55 312.46M396.15 312.46L400.55 308.06" stroke="#fa2329" stroke-width="1.1" fill="none"/>
<path d="M402.18 315.22L406.58 319.62M402.18 319.62L406.58 315.22" stroke="#fa2329" stroke-width="1.1" fill="none"/>
<path d="M408.22 322.37L412.62 326.77M408.22 326.77L412.62 322.37" stroke="#fa2329" stroke-width="1.1" fill="none"/>
<path d="M414.26 329.53L418.66 333.93M414.26 333.93L418.66 329.53" stroke="#fa2329" stroke-width="1.1" fill="none"/>
<path d="M420.29 336.68L424.69 341.08M420.29 341.08L424.69 336.68" stroke="#fa2329" stroke-width="1.1" fill="none"/>
<path d="M426.33 343.84L430.73 348.24M426.33 348.24L430.73 343.84" stroke="#fa2329" stroke-width="1.1" fill="none"/>
<path d="M432.37 350.99L436.77 355.39M432.37 355.39L436.77 350.99" stroke="#fa2329" stroke-width="1.1" fill="none"/>
<path d="M438.41 358.15L442.81 362.55M438.41 362.55L442.81 358.15" stroke="#fa2329" stroke-width="1.1" fill="none"/>
<path d="M444.44 365.30L448.84 369.70M444.44 369.70L448.84 365.30" stroke="#fa2329" stroke-width="1.1" fill="none"/>
<circle cx="325.90" cy="281.64" r="2.05" fill="none" stroke="#3ab878" stroke-width="1.15"/>
<circle cx="331.94" cy="285.93" r="2.05" fill="none" stroke="#3ab878" stroke-width="1.15"/>
<circle cx="337.97" cy="290.23" r="2.05" fill="none" stroke="#3ab878" stroke-width="1.15"/>
<circle cx="344.01" cy="294.52" r="2.05" fill="none" stroke="#3ab878" stroke-width="1.15"/>
<circle cx="350.05" cy="298.81" r="2.05" fill="none" stroke="#3ab878" stroke-width="1.15"/>
<circle cx="356.09" cy="303.11" r="2.05" fill="none" stroke="#3ab878" stroke-width="1.15"/>
<circle cx="362.12" cy="307.40" r="2.05" fill="none" stroke="#3ab878" stroke-width="1.15"/>
<circle cx="368.16" cy="311.69" r="2.05" fill="none" stroke="#3ab878" stroke-width="1.15"/>
<circle cx="374.20" cy="315.98" r="2.05" fill="none" stroke="#3ab878" stroke-width="1.15"/>
<circle cx="380.23" cy="320.28" r="2.05" fill="none" stroke="#3ab878" stroke-width="1.15"/>
<circle cx="386.27" cy="324.57" r="2.05" fill="none" stroke="#3ab878" stroke-width="1.15"/>
<circle cx="392.31" cy="328.86" r="2.05" fill="none" stroke="#3ab878" stroke-width="1.15"/>
<circle cx="398.35" cy="333.16" r="2.05" fill="none" stroke="#3ab878" stroke-width="1.15"/>
<circle cx="404.38" cy="337.45" r="2.05" fill="none" stroke="#3ab878" stroke-width="1.15"/>
<circle cx="410.42" cy="341.74" r="2.05" fill="none" stroke="#3ab878" stroke-width="1.15"/>
<circle cx="416.46" cy="346.04" r="2.05" fill="none" stroke="#3ab878" stroke-width="1.15"/>
<circle cx="422.49" cy="350.33" r="2.05" fill="none" stroke="#3ab878" stroke-width="1.15"/>
<circle cx="428.53" cy="354.62" r="2.05" fill="none" stroke="#3ab878" stroke-width="1.15"/>
<circle cx="434.57" cy="358.91" r="2.05" fill="none" stroke="#3ab878" stroke-width="1.15"/>
<circle cx="440.61" cy="363.21" r="2.05" fill="none" stroke="#3ab878" stroke-width="1.15"/>
<circle cx="446.64" cy="367.50" r="2.05" fill="none" stroke="#3ab878" stroke-width="1.15"/>
<path d="M500.00 230.75L504.40 235.15M500.00 235.15L504.40 230.75" stroke="#fa2329" stroke-width="1.1" fill="none"/>
<text x="506.40" y="235.65" font-size="9.2" fill="#222226" word-spacing="-0.8">node 1</text>
<circle cx="502.20" cy="248.15" r="2.2" fill="none" stroke="#3ab878" stroke-width="1.05"/>
<text x="506.40" y="250.85" font-size="9.2" fill="#222226" word-spacing="-0.8">node 2</text></g>
</svg>
</body></html>
